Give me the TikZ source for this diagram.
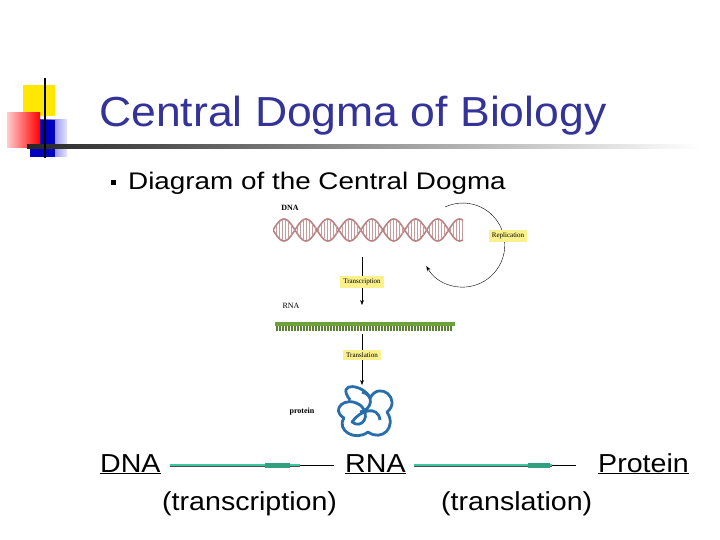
\documentclass[tikz,border=0pt]{standalone}
\usepackage{fontspec}
\setmainfont{Liberation Sans}
\newfontfamily\serifx{Liberation Serif}
\usetikzlibrary{arrows.meta}
\definecolor{titleblue}{RGB}{51,51,153}
\definecolor{teal2}{RGB}{60,200,160}
\definecolor{boxy}{RGB}{250,240,140}
\definecolor{helix}{RGB}{185,130,130}
\definecolor{rnagreen}{RGB}{110,160,60}
\definecolor{protblue}{RGB}{40,110,170}
\tikzset{
  lab/.style={inner sep=1pt,font=\serifx\fontsize{6}{7}\selectfont},
  ybox/.style={fill=boxy,inner sep=3pt,font=\serifx\fontsize{7}{8}\selectfont},
  big/.style={inner sep=0pt,anchor=base west,font=\fontsize{26}{30}\selectfont},
  flow/.style={teal2,line width=2.5pt}
}
\begin{document}
\begin{tikzpicture}[x=1pt,y=-1pt]
\useasboundingbox (0,0) rectangle (720,540);
% logo
\fill[yellow!90!orange] (23,85) rectangle (55,116);
\shade[left color=blue!75!black,right color=blue!10] (30,120) rectangle (67,157);
\fill[blue!75!black] (30,120) rectangle (55,157);
\shade[left color=red!20,right color=red] (7,113) rectangle (40,148);
\shade[left color=black!85,right color=white] (27,145) rectangle (700,149);
\draw[line width=1.5pt] (45,78) -- (45,158);
\node[big,font=\fontsize{42}{46}\selectfont,text=titleblue] (title) at (99,127) {\scalebox{1.06}[1]{Central Dogma of Biology}};
% bullet
\fill[black] (111,180) rectangle (116,185);
\node[big,font=\fontsize{24}{28}\selectfont] (sub) at (128,190) {\scalebox{1.16}[1]{Diagram of the Central Dogma}};
% helix
\begin{scope}
\clip (273,215) rectangle (466,246);
\foreach \s in {0,180}{
  \draw[helix,line width=1.6pt,domain=0:190,samples=160] plot ({273+\x},{230+11*sin(\x*8.2+\s)});
}
\foreach \i in {0,3,...,190}{ \draw[helix!80,line width=0.5pt] ({273+\i},{230+10*sin(\i*8.2)}) -- ({273+\i},{230-10*sin(\i*8.2)}); }
\end{scope}
\node[lab,font=\serifx\bfseries\fontsize{8}{9}\selectfont] (dnal) at (290,208) {DNA};
% replication
\draw[-{Stealth[length=5pt]}] (445,207) arc (-115:150:42);
\node[ybox] (rep) at (508,236) {Replication};
% transcription
\coordinate (t1) at (362,257); \coordinate (t2) at (362,305);
\draw[-{Stealth[length=5pt]}] (t1) -- (t2);
\node[ybox] (tr) at (362,282) {Transcription};
\node[lab,font=\serifx\fontsize{8}{9}\selectfont] (rnal) at (291,306) {RNA};
\fill[rnagreen] (275,322) rectangle (455,326);
\foreach \i in {277,280,...,453}{ \draw[rnagreen!80!black,line width=1.2pt] (\i,326) -- (\i,331); }
\coordinate (l1) at (362,334); \coordinate (l2) at (362,385);
\draw[-{Stealth[length=5pt]}] (l1) -- (l2);
\node[ybox] (tl) at (362,355) {Translation};
\node[lab,font=\serifx\bfseries\fontsize{8}{9}\selectfont] (protl) at (302,412) {protein};
% protein blob
\draw[protblue,line width=2.8pt,line join=round]
 (350,400) .. controls (335,380) and (365,385) .. (370,398)
 .. controls (380,380) and (402,400) .. (387,412)
 .. controls (397,427) and (382,442) .. (368,432)
 .. controls (355,442) and (336,430) .. (344,418)
 .. controls (330,410) and (345,395) .. (360,405)
 .. controls (372,415) and (362,430) .. (352,422)
 .. controls (360,410) and (378,405) .. (380,420);
\draw[protblue,line width=2.8pt] (362,392) .. controls (375,395) and (372,410) .. (360,412);
% bottom flow
\node[big] (dna) at (100,472) {\scalebox{1.1}[1]{\underline{DNA}}};
\node[big] (rna) at (345,472) {\scalebox{1.1}[1]{\underline{RNA}}};
\node[big] (prot) at (598,472) {\scalebox{1.1}[1]{\underline{Protein}}};
\coordinate (a1) at (170,465); \coordinate (a2) at (300,465); \coordinate (a3) at (334,465);
\draw[line width=3pt,black!70] (a1) -- (a2);
\draw[flow] (a1) -- (a2);
\fill[teal2!80!black] (265,463) rectangle (290,467.5);
\draw[line width=1pt] (a2) -- (a3);
\coordinate (b1) at (414,465); \coordinate (b2) at (552,465); \coordinate (b3) at (576,465);
\draw[line width=3pt,black!70] (b1) -- (b2);
\draw[flow] (b1) -- (b2);
\fill[teal2!80!black] (528,463) rectangle (550,467.5);
\draw[line width=1pt] (b2) -- (b3);
\node[big] (trc) at (162,510) {\scalebox{1.1}[1]{(transcription)}};
\node[big] (trl) at (441,510) {\scalebox{1.1}[1]{(translation)}};
\end{tikzpicture}
\end{document}
